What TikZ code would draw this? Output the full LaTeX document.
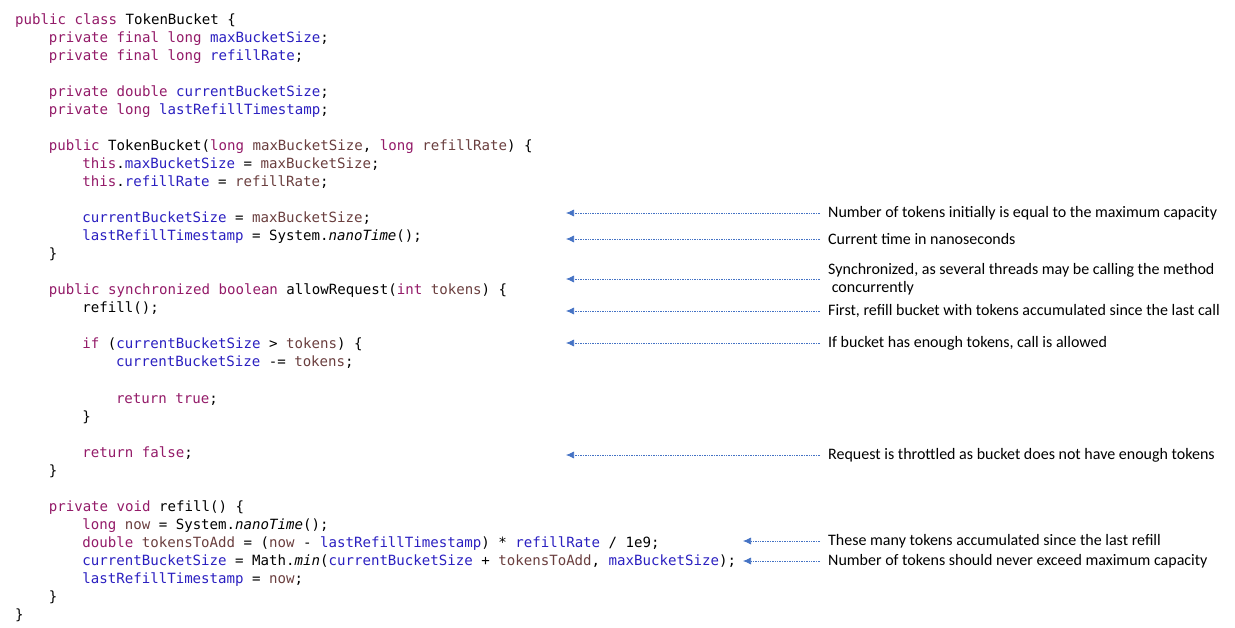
\documentclass[tikz,border=0pt]{standalone}
\usepackage{fontspec}
\setmainfont{Carlito}
\setmonofont{DejaVu Sans Mono}
\usetikzlibrary{arrows.meta}
\definecolor{kwc}{HTML}{931A68}
\definecolor{fdc}{HTML}{2A1FC0}
\definecolor{lvc}{HTML}{6A3E3E}
\definecolor{arc}{HTML}{4472C4}
\newcommand{\kw}[1]{\textcolor{kwc}{#1}}
\newcommand{\fd}[1]{\textcolor{fdc}{#1}}
\newcommand{\lv}[1]{\textcolor{lvc}{#1}}
\begin{document}
\begin{tikzpicture}[x=1pt,y=-1pt,
  code/.style={anchor=base west,inner sep=0pt,font=\fontsize{14.1}{15}\ttfamily},
  note/.style={anchor=west,inner sep=0pt,align=left,font=\fontsize{16}{18}\selectfont},
  arr/.style={draw=arc,densely dotted,line width=0.7pt,-{Latex[length=8pt,width=7pt]},shorten <=8pt}]
\useasboundingbox (0,0) rectangle (1235,628);
\def\I{33.6}
\node[code] (c0) at (15,25) {\kw{public class} TokenBucket \{};
\node[code] (c1) at (15+\I,43) {\kw{private final long} \fd{maxBucketSize};};
\node[code] (c2) at (15+\I,61) {\kw{private final long} \fd{refillRate};};
\node[code] (c4) at (15+\I,97) {\kw{private double} \fd{currentBucketSize};};
\node[code] (c5) at (15+\I,115) {\kw{private long} \fd{lastRefillTimestamp};};
\node[code] (c7) at (15+\I,151) {\kw{public} TokenBucket(\kw{long} \lv{maxBucketSize}, \kw{long} \lv{refillRate}) \{};
\node[code] (c8) at (15+2*\I,169) {\kw{this}.\fd{maxBucketSize} = \lv{maxBucketSize};};
\node[code] (c9) at (15+2*\I,187) {\kw{this}.\fd{refillRate} = \lv{refillRate};};
\node[code] (c11) at (15+2*\I,223) {\fd{currentBucketSize} = \lv{maxBucketSize};};
\node[code] (c12) at (15+2*\I,241) {\fd{lastRefillTimestamp} = System.\textit{nanoTime}();};
\node[code] (c13) at (15+\I,259) {\}};
\node[code] (c15) at (15+\I,295) {\kw{public synchronized boolean} allowRequest(\kw{int} \lv{tokens}) \{};
\node[code] (c16) at (15+2*\I,313) {refill();};
\node[code] (c18) at (15+2*\I,349) {\kw{if} (\fd{currentBucketSize} > \lv{tokens}) \{};
\node[code] (c19) at (15+3*\I,367) {\fd{currentBucketSize} -= \lv{tokens};};
\node[code] (c21) at (15+3*\I,403) {\kw{return true};};
\node[code] (c22) at (15+2*\I,421) {\}};
\node[code] (c24) at (15+2*\I,457) {\kw{return false};};
\node[code] (c25) at (15+\I,475) {\}};
\node[code] (c27) at (15+\I,511) {\kw{private void} refill() \{};
\node[code] (c28) at (15+2*\I,529) {\kw{long} \lv{now} = System.\textit{nanoTime}();};
\node[code] (c29) at (15+2*\I,547) {\kw{double} \lv{tokensToAdd} = (\lv{now} - \fd{lastRefillTimestamp}) * \fd{refillRate} / 1e9;};
\node[code] (c30) at (15+2*\I,565) {\fd{currentBucketSize} = Math.\textit{min}(\fd{currentBucketSize} + \lv{tokensToAdd}, \fd{maxBucketSize});};
\node[code] (c31) at (15+2*\I,583) {\fd{lastRefillTimestamp} = \lv{now};};
\node[code] (c32) at (15+\I,601) {\}};
\node[code] (c33) at (15,619) {\}};

\node[note] (n1) at (828,213) {Number of tokens initially is equal to the maximum capacity};
\node[note] (n2) at (828,239) {Current time in nanoseconds};
\node[note] (n3) at (828,279) {Synchronized, as several threads may be calling the method\\\ concurrently};
\node[note] (n4) at (828,311) {First, refill bucket with tokens accumulated since the last call};
\node[note] (n5) at (828,343) {If bucket has enough tokens, call is allowed};
\node[note] (n6) at (828,455) {Request is throttled as bucket does not have enough tokens};
\node[note] (n7) at (828,541) {These many tokens accumulated since the last refill};
\node[note] (n8) at (828,561) {Number of tokens should never exceed maximum capacity};

\foreach \n/\y in {1/213,2/239,3/279,4/311,5/343,6/455}{
  \coordinate (a\n) at (566,\y);
  \draw[arr] (n\n.west |- a\n) -- (a\n);
}
\coordinate (a7) at (743,541);
\coordinate (a8) at (743,561);
\draw[arr] (n7.west) -- (a7);
\draw[arr] (n8.west) -- (a8);
\end{tikzpicture}
\end{document}
